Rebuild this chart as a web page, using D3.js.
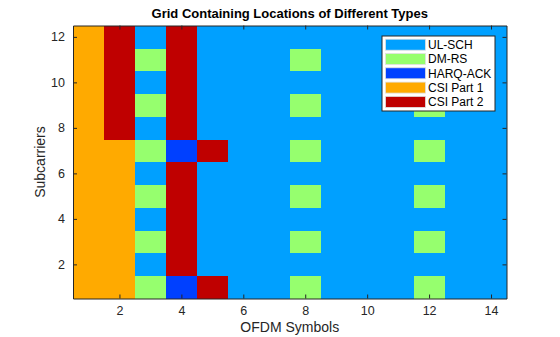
<!DOCTYPE html>
<html><head><meta charset="utf-8">
<script src="https://cdn.jsdelivr.net/npm/d3@7"></script>
<style>body{margin:0;background:#fff}svg{display:block;font-family:Arial,"Liberation Sans",sans-serif}</style>
</head><body><svg id="c" width="560" height="337"></svg>
<script>
const types = ["UL-SCH","DM-RS","HARQ-ACK","CSI Part 1","CSI Part 2"];
const typeColors = ["#00a0ff","#96ff6e","#0040ff","#ffaa00","#bf0000"];
const symbols = d3.range(1,15);
const subcarriers = d3.range(1,13);
// grid rows: subcarrier 1..12 (bottom to top), columns: OFDM symbol 1..14; codes index into types
const grid = [
  [3,3,1,2,4,0,0,1,0,0,0,1,0,0], // 1
  [3,3,0,4,0,0,0,0,0,0,0,0,0,0], // 2
  [3,3,1,4,0,0,0,1,0,0,0,1,0,0], // 3
  [3,3,0,4,0,0,0,0,0,0,0,0,0,0], // 4
  [3,3,1,4,0,0,0,1,0,0,0,1,0,0], // 5
  [3,3,0,4,0,0,0,0,0,0,0,0,0,0], // 6
  [3,3,1,2,4,0,0,1,0,0,0,1,0,0], // 7
  [3,4,0,4,0,0,0,0,0,0,0,0,0,0], // 8
  [3,4,1,4,0,0,0,1,0,0,0,1,0,0], // 9
  [3,4,0,4,0,0,0,0,0,0,0,0,0,0], // 10
  [3,4,1,4,0,0,0,1,0,0,0,1,0,0], // 11
  [3,4,0,4,0,0,0,0,0,0,0,0,0,0]  // 12
];
const xTicks = [2,4,6,8,10,12,14];
const yTicks = [2,4,6,8,10,12];

const svg = d3.select("#c");
const L=73, R=506.5, T=25.5, B=298.5;
const x = d3.scaleLinear().domain([0.5,14.5]).range([L,R]);
const y = d3.scaleLinear().domain([0.5,12.5]).range([B,T]);
const color = d3.scaleOrdinal().domain(d3.range(types.length)).range(typeColors);

const cells = [];
grid.forEach((row,i)=>row.forEach((v,j)=>cells.push({sym:symbols[j],sc:subcarriers[i],v})));
svg.append("g").selectAll("rect").data(cells).join("rect")
  .attr("x",d=>x(d.sym-0.5)).attr("y",d=>y(d.sc+0.5))
  .attr("width",d=>x(d.sym+0.5)-x(d.sym-0.5)+0.3)
  .attr("height",d=>y(d.sc-0.5)-y(d.sc+0.5)+0.3)
  .attr("fill",d=>color(d.v)).attr("shape-rendering","crispEdges");

const ax = svg.append("g").attr("transform",`translate(0,${B})`)
  .call(d3.axisBottom(x).tickValues(xTicks).tickSize(-4).tickSizeOuter(0).tickPadding(8));
const ay = svg.append("g").attr("transform",`translate(${L},0)`)
  .call(d3.axisLeft(y).tickValues(yTicks).tickSize(-4).tickSizeOuter(0).tickPadding(8));
const axT = svg.append("g").attr("transform",`translate(0,${T})`)
  .call(d3.axisTop(x).tickValues(xTicks).tickSize(-4).tickSizeOuter(0).tickFormat(""));
const axR = svg.append("g").attr("transform",`translate(${R},0)`)
  .call(d3.axisRight(y).tickValues(yTicks).tickSize(-4).tickSizeOuter(0).tickFormat(""));
[ax,ay,axT,axR].forEach(g=>{
  g.selectAll("path").attr("stroke","#262626").attr("stroke-width",1);
  g.selectAll("line").attr("stroke","#262626");
  g.selectAll("text").attr("fill","#262626").attr("font-size",12.5);
});

svg.append("text").attr("x",(L+R)/2).attr("y",18).attr("text-anchor","middle")
  .attr("font-weight","bold").attr("font-size",13).attr("fill","#000")
  .text("Grid Containing Locations of Different Types");
svg.append("text").attr("x",(L+R)/2).attr("y",332).attr("text-anchor","middle")
  .attr("font-size",14).attr("fill","#262626").text("OFDM Symbols");
svg.append("text").attr("transform",`translate(45,${(T+B)/2}) rotate(-90)`).attr("text-anchor","middle")
  .attr("font-size",14).attr("fill","#262626").text("Subcarriers");

// legend
const lg = svg.append("g").attr("transform","translate(382,36)");
lg.append("rect").attr("width",113).attr("height",75).attr("fill","#fff").attr("stroke","#262626").attr("stroke-width",1);
types.forEach((t,i)=>{
  const g = lg.append("g").attr("transform",`translate(0,${8.7+i*14.3})`);
  g.append("rect").attr("x",3.5).attr("y",-5.5).attr("width",40).attr("height",11)
    .attr("fill",typeColors[i]).attr("stroke","#e0e0e0").attr("stroke-width",0.8);
  g.append("text").attr("x",46).attr("y",4.3).attr("font-size",12).attr("fill","#000").text(t);
});
</script></body></html>
